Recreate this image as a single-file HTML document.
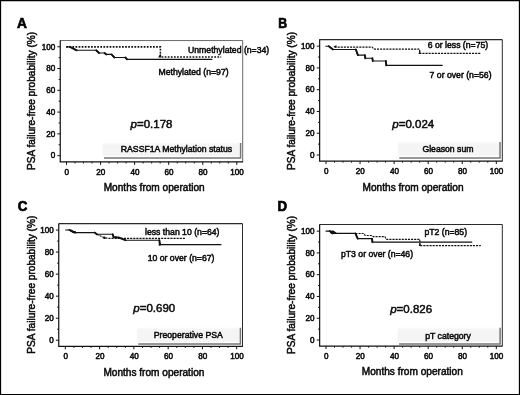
<!DOCTYPE html>
<html><head><meta charset="utf-8"><title>Figure</title>
<style>
html,body{margin:0;padding:0;background:#fff;}
body{width:520px;height:395px;overflow:hidden;position:relative;}
svg{position:absolute;left:0;top:0;display:block;}
text{font-family:"Liberation Sans", Arial, Helvetica, sans-serif;fill:#0a0a0a;stroke:#0a0a0a;stroke-width:0.5px;}
.tk{font-size:8.15px;}
.ax{font-size:10.1px;}
.lb{font-size:8.68px;}
.pv{font-size:11.5px;}
.lt{font-size:14.2px;font-weight:bold;fill:#000;stroke:#000;stroke-width:0.7px;}
</style></head><body>
<svg width="520" height="395" viewBox="0 0 520 395">
<defs><linearGradient id="lg" x1="0" y1="0" x2="0" y2="1"><stop offset="0" stop-color="#fcfcfc"/><stop offset="0.2" stop-color="#f4f4f4"/><stop offset="1" stop-color="#f5f5f5"/></linearGradient></defs>
<rect x="0" y="0" width="520" height="395" fill="#fff"/>
<path d="M0.55 0.55 H519.42 V394.45 H0.55 Z" fill="none" stroke="#000" stroke-width="1.15"/>
<path d="M60.25 40.55 H242.70" fill="none" stroke="#2a2a2a" stroke-width="0.7"/>
<path d="M242.70 40.55 V161.95" fill="none" stroke="#2a2a2a" stroke-width="0.7"/>
<path d="M60.25 40.25 V161.95 H243.00" fill="none" stroke="#111" stroke-width="1.2"/>
<path d="M60.25 155.65 h-2.9 M60.25 144.76 h-1.6 M60.25 133.87 h-2.9 M60.25 122.98 h-1.6 M60.25 112.09 h-2.9 M60.25 101.20 h-1.6 M60.25 90.31 h-2.9 M60.25 79.42 h-1.6 M60.25 68.53 h-2.9 M60.25 57.64 h-1.6 M60.25 46.75 h-2.9 M66.50 161.95 v2.9 M75.02 161.95 v1.5 M83.53 161.95 v1.5 M92.05 161.95 v1.5 M100.56 161.95 v2.9 M109.08 161.95 v1.5 M117.59 161.95 v1.5 M126.11 161.95 v1.5 M134.62 161.95 v2.9 M143.13 161.95 v1.5 M151.65 161.95 v1.5 M160.17 161.95 v1.5 M168.68 161.95 v2.9 M177.19 161.95 v1.5 M185.71 161.95 v1.5 M194.23 161.95 v1.5 M202.74 161.95 v2.9 M211.25 161.95 v1.5 M219.77 161.95 v1.5 M228.28 161.95 v1.5 M236.80 161.95 v2.9 " fill="none" stroke="#111" stroke-width="1.0"/>
<text class="tk" x="55.25" y="158.45" text-anchor="end">0</text>
<text class="tk" x="55.25" y="136.67" text-anchor="end">20</text>
<text class="tk" x="55.25" y="114.89" text-anchor="end">40</text>
<text class="tk" x="55.25" y="93.11" text-anchor="end">60</text>
<text class="tk" x="55.25" y="71.33" text-anchor="end">80</text>
<text class="tk" x="55.25" y="49.55" text-anchor="end">100</text>
<text class="tk" x="66.80" y="174.95" text-anchor="middle">0</text>
<text class="tk" x="100.86" y="174.95" text-anchor="middle">20</text>
<text class="tk" x="134.92" y="174.95" text-anchor="middle">40</text>
<text class="tk" x="168.98" y="174.95" text-anchor="middle">60</text>
<text class="tk" x="203.04" y="174.95" text-anchor="middle">80</text>
<text class="tk" x="237.10" y="174.95" text-anchor="middle">100</text>
<text class="ax" x="154.20" y="190.90" text-anchor="middle">Months from operation</text>
<text class="ax" transform="translate(34.80 100.90) rotate(-90)" text-anchor="middle">PSA failure-free probability (%)</text>
<text class="lt" transform="translate(17.10 27.90) scale(0.965 1)">A</text>
<rect x="102.50" y="142.60" width="137.10" height="13.40" fill="url(#lg)"/>
<path d="M104.00 158.05 H240.60 V142.90" fill="none" stroke="#777" stroke-width="1.5"/>
<text class="lb" x="120.80" y="152.40">RASSF1A Methylation status</text>
<text class="pv" x="130.60" y="128.00"><tspan font-style="italic">p</tspan>=0.178</text>
<path d="M66.20 46.85 L160.40 46.85 L160.40 56.90 L221.20 56.90" fill="none" stroke="#111" stroke-width="1.55" stroke-dasharray="1.75 1.35"/>
<path d="M66.20 46.85 L70.00 46.85 L76.60 50.30 L96.20 50.30 L99.00 53.00 L104.60 53.00 L106.30 54.40 L111.50 54.40 L114.40 57.50 L125.40 57.50 L127.10 59.35 L212.30 59.35" fill="none" stroke="#111" stroke-width="1.12" stroke-linejoin="miter"/>
<path d="M70.00 46.85 L76.60 50.30 M96.20 50.30 L99.00 53.00 M104.60 53.00 L106.30 54.40 M111.50 54.40 L114.40 57.50 M125.40 57.50 L127.10 59.35 " fill="none" stroke="#111" stroke-width="1.9" stroke-linecap="round"/>
<path d="M158.2 57.5 L161.1 57.5 L160.5 53.2 Z" fill="#111"/>
<text class="lb" x="188.00" y="52.60">Unmethylated (n=34)</text>
<text class="lb" x="158.50" y="74.70">Methylated (n=97)</text>
<path d="M319.65 39.60 H502.30" fill="none" stroke="#2a2a2a" stroke-width="1.1"/>
<path d="M502.30 39.60 V161.15" fill="none" stroke="#2a2a2a" stroke-width="1.0"/>
<path d="M319.65 39.30 V161.15 H502.60" fill="none" stroke="#111" stroke-width="1.2"/>
<path d="M319.65 155.00 h-2.9 M319.65 144.12 h-1.6 M319.65 133.23 h-2.9 M319.65 122.34 h-1.6 M319.65 111.46 h-2.9 M319.65 100.58 h-1.6 M319.65 89.69 h-2.9 M319.65 78.81 h-1.6 M319.65 67.92 h-2.9 M319.65 57.03 h-1.6 M319.65 46.15 h-2.9 M326.00 161.15 v2.9 M334.51 161.15 v1.5 M343.03 161.15 v1.5 M351.55 161.15 v1.5 M360.06 161.15 v2.9 M368.57 161.15 v1.5 M377.09 161.15 v1.5 M385.61 161.15 v1.5 M394.12 161.15 v2.9 M402.63 161.15 v1.5 M411.15 161.15 v1.5 M419.67 161.15 v1.5 M428.18 161.15 v2.9 M436.69 161.15 v1.5 M445.21 161.15 v1.5 M453.73 161.15 v1.5 M462.24 161.15 v2.9 M470.75 161.15 v1.5 M479.27 161.15 v1.5 M487.78 161.15 v1.5 M496.30 161.15 v2.9 " fill="none" stroke="#111" stroke-width="1.0"/>
<text class="tk" x="314.65" y="157.80" text-anchor="end">0</text>
<text class="tk" x="314.65" y="136.03" text-anchor="end">20</text>
<text class="tk" x="314.65" y="114.26" text-anchor="end">40</text>
<text class="tk" x="314.65" y="92.49" text-anchor="end">60</text>
<text class="tk" x="314.65" y="70.72" text-anchor="end">80</text>
<text class="tk" x="314.65" y="48.95" text-anchor="end">100</text>
<text class="tk" x="326.30" y="174.15" text-anchor="middle">0</text>
<text class="tk" x="360.36" y="174.15" text-anchor="middle">20</text>
<text class="tk" x="394.42" y="174.15" text-anchor="middle">40</text>
<text class="tk" x="428.48" y="174.15" text-anchor="middle">60</text>
<text class="tk" x="462.54" y="174.15" text-anchor="middle">80</text>
<text class="tk" x="496.60" y="174.15" text-anchor="middle">100</text>
<text class="ax" x="413.10" y="190.70" text-anchor="middle">Months from operation</text>
<text class="ax" transform="translate(295.00 101.00) rotate(-90)" text-anchor="middle">PSA failure-free probability (%)</text>
<text class="lt" transform="translate(278.30 28.10) scale(0.865 1)">B</text>
<rect x="397.80" y="141.80" width="101.40" height="14.10" fill="url(#lg)"/>
<path d="M399.30 158.05 H500.00 V142.10" fill="none" stroke="#777" stroke-width="1.5"/>
<text class="lb" x="422.40" y="152.20">Gleason sum</text>
<text class="pv" x="392.30" y="128.00"><tspan font-style="italic">p</tspan>=0.024</text>
<path d="M334.50 47.10 L372.00 47.10 L373.90 49.15 L419.60 49.10 L419.60 53.30 L481.30 53.30" fill="none" stroke="#111" stroke-width="1.15" stroke-dasharray="2.1 1.0"/>
<path d="M325.40 46.20 L328.80 46.20 L333.00 49.45 L355.80 49.45 L357.90 55.10 L364.90 55.10 L365.30 58.30 L372.40 58.30 L372.80 61.00 L385.90 61.00 L386.20 65.40 L442.70 65.40" fill="none" stroke="#111" stroke-width="1.12" stroke-linejoin="miter"/>
<path d="M328.80 46.20 L333.00 49.45 M355.80 49.45 L357.90 55.10 M364.90 55.10 L365.30 58.30 M372.40 58.30 L372.80 61.00 M385.90 61.00 L386.20 65.40 " fill="none" stroke="#111" stroke-width="1.9" stroke-linecap="round"/>
<path d="M333.2 46.9 L336.4 45.0 L336.4 47.6 Z" fill="#111"/><path d="M418.3 53.9 L420.8 53.9 L420.1 50.6 Z" fill="#111"/>
<text class="lb" x="427.70" y="48.00">6 or less (n=75)</text>
<text class="lb" x="429.60" y="77.60">7 or over (n=56)</text>
<path d="M58.75 223.70 H242.50" fill="none" stroke="#2a2a2a" stroke-width="1.25"/>
<path d="M242.50 223.70 V346.40" fill="none" stroke="#2a2a2a" stroke-width="1.0"/>
<path d="M58.75 223.40 V346.40 H242.80" fill="none" stroke="#111" stroke-width="1.2"/>
<path d="M58.75 340.25 h-2.9 M58.75 329.23 h-1.6 M58.75 318.21 h-2.9 M58.75 307.19 h-1.6 M58.75 296.17 h-2.9 M58.75 285.15 h-1.6 M58.75 274.13 h-2.9 M58.75 263.11 h-1.6 M58.75 252.09 h-2.9 M58.75 241.07 h-1.6 M58.75 230.05 h-2.9 M65.35 346.40 v2.9 M73.92 346.40 v1.5 M82.48 346.40 v1.5 M91.05 346.40 v1.5 M99.62 346.40 v2.9 M108.19 346.40 v1.5 M116.75 346.40 v1.5 M125.32 346.40 v1.5 M133.89 346.40 v2.9 M142.46 346.40 v1.5 M151.02 346.40 v1.5 M159.59 346.40 v1.5 M168.16 346.40 v2.9 M176.73 346.40 v1.5 M185.30 346.40 v1.5 M193.86 346.40 v1.5 M202.43 346.40 v2.9 M211.00 346.40 v1.5 M219.56 346.40 v1.5 M228.13 346.40 v1.5 M236.70 346.40 v2.9 " fill="none" stroke="#111" stroke-width="1.0"/>
<text class="tk" x="53.75" y="343.05" text-anchor="end">0</text>
<text class="tk" x="53.75" y="321.01" text-anchor="end">20</text>
<text class="tk" x="53.75" y="298.97" text-anchor="end">40</text>
<text class="tk" x="53.75" y="276.93" text-anchor="end">60</text>
<text class="tk" x="53.75" y="254.89" text-anchor="end">80</text>
<text class="tk" x="53.75" y="232.85" text-anchor="end">100</text>
<text class="tk" x="65.65" y="359.40" text-anchor="middle">0</text>
<text class="tk" x="99.92" y="359.40" text-anchor="middle">20</text>
<text class="tk" x="134.19" y="359.40" text-anchor="middle">40</text>
<text class="tk" x="168.46" y="359.40" text-anchor="middle">60</text>
<text class="tk" x="202.73" y="359.40" text-anchor="middle">80</text>
<text class="tk" x="237.00" y="359.40" text-anchor="middle">100</text>
<text class="ax" x="153.90" y="375.60" text-anchor="middle">Months from operation</text>
<text class="ax" transform="translate(35.30 284.70) rotate(-90)" text-anchor="middle">PSA failure-free probability (%)</text>
<text class="lt" transform="translate(17.85 211.25) scale(0.943 1)">C</text>
<rect x="136.80" y="327.40" width="102.60" height="14.50" fill="url(#lg)"/>
<path d="M138.30 344.00 H240.40 V327.70" fill="none" stroke="#777" stroke-width="1.5"/>
<text class="lb" x="153.80" y="338.20">Preoperative PSA</text>
<text class="pv" x="133.30" y="312.30"><tspan font-style="italic">p</tspan>=0.690</text>
<path d="M96.80 234.30 L104.00 237.60 L108.00 238.30 L185.80 238.30" fill="none" stroke="#111" stroke-width="1.15" stroke-dasharray="2.1 1.0"/>
<path d="M65.20 230.00 L69.40 230.00 L75.20 232.60 L94.80 232.60 L96.80 234.30 L112.70 234.30 L113.50 237.00 L119.00 237.60 L125.40 240.20 L159.40 240.20 L159.80 244.60 L221.40 244.60" fill="none" stroke="#111" stroke-width="1.12" stroke-linejoin="miter"/>
<path d="M69.40 230.00 L75.20 232.60 M94.80 232.60 L96.80 234.30 M112.70 234.30 L113.50 237.00 M113.50 237.00 L119.00 237.60 M119.00 237.60 L125.40 240.20 M159.40 240.20 L159.80 244.60 " fill="none" stroke="#111" stroke-width="1.9" stroke-linecap="round"/>
<path d="M68.4 229.7 L71.2 229.6 L73.4 231.0 L75.4 230.9 L76.6 232.9 L73.2 233.3 L70.4 231.6 Z" fill="#111"/><path d="M104.6 236.5 V239 M103 238.0 H106.2" fill="none" stroke="#111" stroke-width="1"/><path d="M158.4 245.2 L160.9 245.2 L160.2 242.0 Z" fill="#111"/>
<text class="lb" x="145.00" y="234.80">less than 10 (n=64)</text>
<text class="lb" x="147.70" y="261.10">10 or over (n=67)</text>
<path d="M319.65 224.50 H502.30" fill="none" stroke="#2a2a2a" stroke-width="1.2"/>
<path d="M502.30 224.50 V346.15" fill="none" stroke="#2a2a2a" stroke-width="1.0"/>
<path d="M319.65 224.20 V346.15 H502.60" fill="none" stroke="#111" stroke-width="1.2"/>
<path d="M319.65 340.00 h-2.9 M319.65 329.12 h-1.6 M319.65 318.23 h-2.9 M319.65 307.35 h-1.6 M319.65 296.46 h-2.9 M319.65 285.57 h-1.6 M319.65 274.69 h-2.9 M319.65 263.81 h-1.6 M319.65 252.92 h-2.9 M319.65 242.03 h-1.6 M319.65 231.15 h-2.9 M326.00 346.15 v2.9 M334.51 346.15 v1.5 M343.03 346.15 v1.5 M351.55 346.15 v1.5 M360.06 346.15 v2.9 M368.57 346.15 v1.5 M377.09 346.15 v1.5 M385.61 346.15 v1.5 M394.12 346.15 v2.9 M402.63 346.15 v1.5 M411.15 346.15 v1.5 M419.67 346.15 v1.5 M428.18 346.15 v2.9 M436.69 346.15 v1.5 M445.21 346.15 v1.5 M453.73 346.15 v1.5 M462.24 346.15 v2.9 M470.75 346.15 v1.5 M479.27 346.15 v1.5 M487.78 346.15 v1.5 M496.30 346.15 v2.9 " fill="none" stroke="#111" stroke-width="1.0"/>
<text class="tk" x="314.65" y="342.80" text-anchor="end">0</text>
<text class="tk" x="314.65" y="321.03" text-anchor="end">20</text>
<text class="tk" x="314.65" y="299.26" text-anchor="end">40</text>
<text class="tk" x="314.65" y="277.49" text-anchor="end">60</text>
<text class="tk" x="314.65" y="255.72" text-anchor="end">80</text>
<text class="tk" x="314.65" y="233.95" text-anchor="end">100</text>
<text class="tk" x="326.30" y="359.15" text-anchor="middle">0</text>
<text class="tk" x="360.36" y="359.15" text-anchor="middle">20</text>
<text class="tk" x="394.42" y="359.15" text-anchor="middle">40</text>
<text class="tk" x="428.48" y="359.15" text-anchor="middle">60</text>
<text class="tk" x="462.54" y="359.15" text-anchor="middle">80</text>
<text class="tk" x="496.60" y="359.15" text-anchor="middle">100</text>
<text class="ax" x="412.30" y="375.30" text-anchor="middle">Months from operation</text>
<text class="ax" transform="translate(295.20 284.90) rotate(-90)" text-anchor="middle">PSA failure-free probability (%)</text>
<text class="lt" transform="translate(277.60 211.20) scale(0.935 1)">D</text>
<rect x="397.60" y="327.40" width="101.80" height="14.50" fill="url(#lg)"/>
<path d="M399.10 344.00 H500.10 V327.70" fill="none" stroke="#777" stroke-width="1.5"/>
<text class="lb" x="425.20" y="338.60">pT category</text>
<text class="pv" x="390.20" y="313.00"><tspan font-style="italic">p</tspan>=0.826</text>
<path d="M355.40 233.50 L364.00 233.50 L365.20 235.50 L372.20 235.50 L373.20 236.60 L384.80 236.60 L386.20 239.30 L419.80 239.30 L419.80 245.60 L480.80 245.60" fill="none" stroke="#111" stroke-width="1.15" stroke-dasharray="2.1 1.0"/>
<path d="M325.60 231.15 L329.80 231.15 L332.30 233.40 L355.40 233.40 L357.70 238.60 L372.00 238.60 L372.40 242.10 L472.20 242.10" fill="none" stroke="#111" stroke-width="1.12" stroke-linejoin="miter"/>
<path d="M329.80 231.15 L332.30 233.40 M355.40 233.40 L357.70 238.60 M372.00 238.60 L372.40 242.10 " fill="none" stroke="#111" stroke-width="1.9" stroke-linecap="round"/>
<path d="M329.6 230.7 L333.4 230.4 L336.6 232.8 L333.2 234.3 L330.4 233.3 Z" fill="#111"/><path d="M418.6 246.1 L421 246.1 L420.3 242.9 Z" fill="#111"/>
<text class="lb" x="424.40" y="234.80">pT2 (n=85)</text>
<text class="lb" x="341.00" y="256.50">pT3 or over (n=46)</text>
</svg>
</body></html>
